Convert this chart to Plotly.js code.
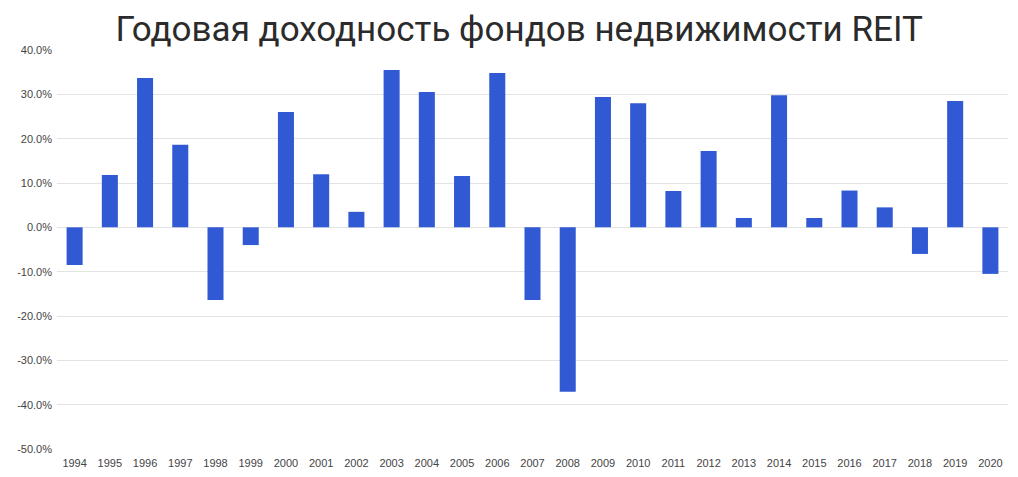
<!DOCTYPE html>
<html>
<head>
<meta charset="utf-8">
<script src="https://cdn.plot.ly/plotly-3.0.1.min.js"></script>
<style>html,body{margin:0;padding:0;background:#fff;}#chart{width:1018px;height:477px;}</style>
</head>
<body>
<div id="chart"></div>
<script>
const years = ['1994','1995','1996','1997','1998','1999','2000','2001','2002','2003','2004','2005','2006','2007','2008','2009','2010','2011','2012','2013','2014','2015','2016','2017','2018','2019','2020'];
const returns = [-8.5, 11.8, 33.7, 18.6, -16.4, -4.0, 26.0, 12.0, 3.5, 35.5, 30.5, 11.6, 34.8, -16.4, -37.1, 29.4, 28.0, 8.2, 17.2, 2.1, 29.8, 2.1, 8.3, 4.5, -6.0, 28.5, -10.5];
const yTickVals = [40, 30, 20, 10, 0, -10, -20, -30, -40, -50];
const yTickText = ['40.0%', '30.0%', '20.0%', '10.0%', '0.0%', '-10.0%', '-20.0%', '-30.0%', '-40.0%', '-50.0%'];
const titleText = 'Годовая доходность фондов недвижимости REIT';

const trace = {
  type: 'bar',
  x: years,
  y: returns,
  marker: {color: '#3059d3'},
  hoverinfo: 'x+y'
};

const layout = {
  width: 1018,
  height: 477,
  margin: {l: 57, r: 10, t: 50, b: 28},
  paper_bgcolor: '#ffffff',
  plot_bgcolor: '#ffffff',
  bargap: 0.545,
  showlegend: false,
  title: {
    text: titleText,
    font: {family: 'Roboto, "Liberation Sans", sans-serif', size: 35, color: '#2b2b2b'},
    x: 0.51, xanchor: 'center',
    y: 0.94, yanchor: 'middle'
  },
  xaxis: {
    type: 'category',
    tickfont: {family: '"Liberation Sans", Arial, sans-serif', size: 11, color: '#444'},
    showgrid: false,
    zeroline: false,
    showline: false,
    ticks: '',
    ticklen: 0,
    ticklabelstandoff: 6
  },
  yaxis: {
    range: [-50, 40],
    tickvals: yTickVals,
    ticktext: yTickText,
    tickfont: {family: '"Liberation Sans", Arial, sans-serif', size: 11, color: '#444'},
    gridcolor: '#e3e3e3',
    gridwidth: 1,
    zeroline: false,
    showline: false,
    ticks: '',
    ticklabelstandoff: 4
  }
};

Plotly.newPlot('chart', [trace], layout, {displayModeBar: false, staticPlot: true});
</script>
</body>
</html>
